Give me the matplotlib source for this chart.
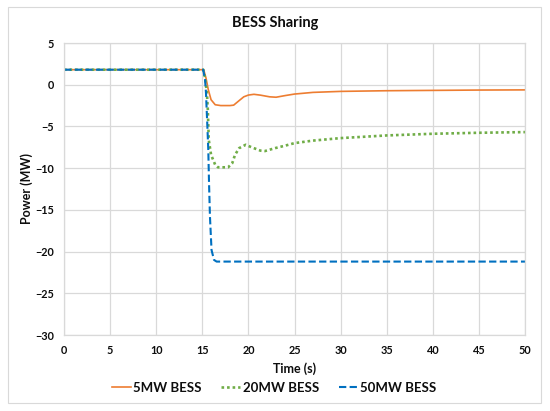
import matplotlib
matplotlib.use('Agg')
import matplotlib.pyplot as plt
from matplotlib.patches import Rectangle

# values (time in s, power in MW)
t_5mw = [0, 15.15, 15.4, 15.65, 15.95, 16.4, 17.0, 18.0, 18.4, 19.0, 19.5, 20.0,
         20.6, 21.3, 22.3, 23.0, 24.0, 25.0, 27.0, 30.0, 35.0, 40.0, 45.0, 50.0]
p_5mw = [1.8, 1.8, 0.8, -0.6, -1.8, -2.4, -2.5, -2.5, -2.45, -1.9, -1.45, -1.24,
         -1.15, -1.25, -1.45, -1.5, -1.3, -1.12, -0.92, -0.8, -0.72, -0.68, -0.64, -0.62]

t_20mw = [0, 15.1, 15.3, 15.5, 15.6, 15.7, 15.95, 16.4, 16.7, 17.8, 18.25, 18.55,
          19.0, 19.7, 20.35, 21.3, 21.8, 22.9, 24.0, 25.0, 27.0, 30.0, 35.0, 40.0, 45.0, 50.0]
p_20mw = [1.8, 1.8, 0.8, -1.0, -3.0, -6.6, -8.4, -9.6, -9.9, -9.9, -9.4, -8.4,
          -7.6, -7.2, -7.5, -7.9, -7.95, -7.6, -7.3, -7.0, -6.7, -6.4, -6.08, -5.88, -5.76, -5.68]

t_50mw = [0, 15.1, 15.3, 15.4, 15.55, 15.65, 15.73, 15.83, 16.0, 16.27, 16.55, 50.0]
p_50mw = [1.8, 1.8, 0.6, -1.0, -5.0, -7.8, -11.8, -15.8, -19.8, -21.0, -21.2, -21.2]

labels = ['5MW BESS', '20MW BESS', '50MW BESS']
xticks = list(range(0, 51, 5))
yticks = list(range(-30, 6, 5))

FONT = 'Lato'
GRID = '#D9D9D9'
TXT = '#0D0D0D'

fig = plt.figure(figsize=(5.5, 4.11), dpi=100)
fig.patches.append(Rectangle((8 / 550, 1 - 403 / 411), 533 / 550, 396 / 411,
                             transform=fig.transFigure, fill=False,
                             edgecolor=GRID, linewidth=0.8))

ax = fig.add_axes([64 / 550, 1 - 335 / 411, 461 / 550, 292 / 411])

ax.plot(t_5mw, p_5mw, color='#ED7D31', linewidth=1.2, label=labels[0])
ax.plot(t_20mw, p_20mw, color='#70AD47', linewidth=1.9, linestyle=(0, (1, 1.1)),
        label=labels[1])
ax.plot(t_50mw, p_50mw, color='#0070C0', linewidth=1.5, linestyle=(0, (3.5, 1.6)),
        label=labels[2])

ax.set_xlim(0, 50)
ax.set_ylim(-30, 5)
ax.set_xticks(xticks)
ax.set_yticks(yticks)
ax.grid(True, color=GRID, linewidth=0.9)
ax.set_axisbelow(True)
for s in ax.spines.values():
    s.set_color(GRID)
    s.set_linewidth(0.9)
ax.tick_params(length=0, pad=7, labelsize=7.8, colors=TXT)
for lab in ax.get_xticklabels() + ax.get_yticklabels():
    lab.set_fontfamily(FONT)
    lab.set_fontweight('bold')

ax.set_xlabel('Time (s)', fontsize=9, fontweight='bold', family=FONT, color=TXT, labelpad=5)
ax.set_ylabel('Power (MW)', fontsize=9, fontweight='bold', family=FONT, color=TXT, labelpad=2)

fig.text(0.5, 1 - 23 / 411, 'BESS Sharing', ha='center', va='center',
         fontsize=10.5, fontweight='bold', family=FONT, color=TXT)

leg = fig.legend(loc='center', bbox_to_anchor=(274 / 550, 1 - 388 / 411), ncol=3,
                 frameon=False, handlelength=1.4, handletextpad=0.2, columnspacing=1.5,
                 prop={'family': FONT, 'weight': 'bold', 'size': 9.5})
for t in leg.get_texts():
    t.set_color(TXT)

fig.savefig('out.png', dpi=100)
